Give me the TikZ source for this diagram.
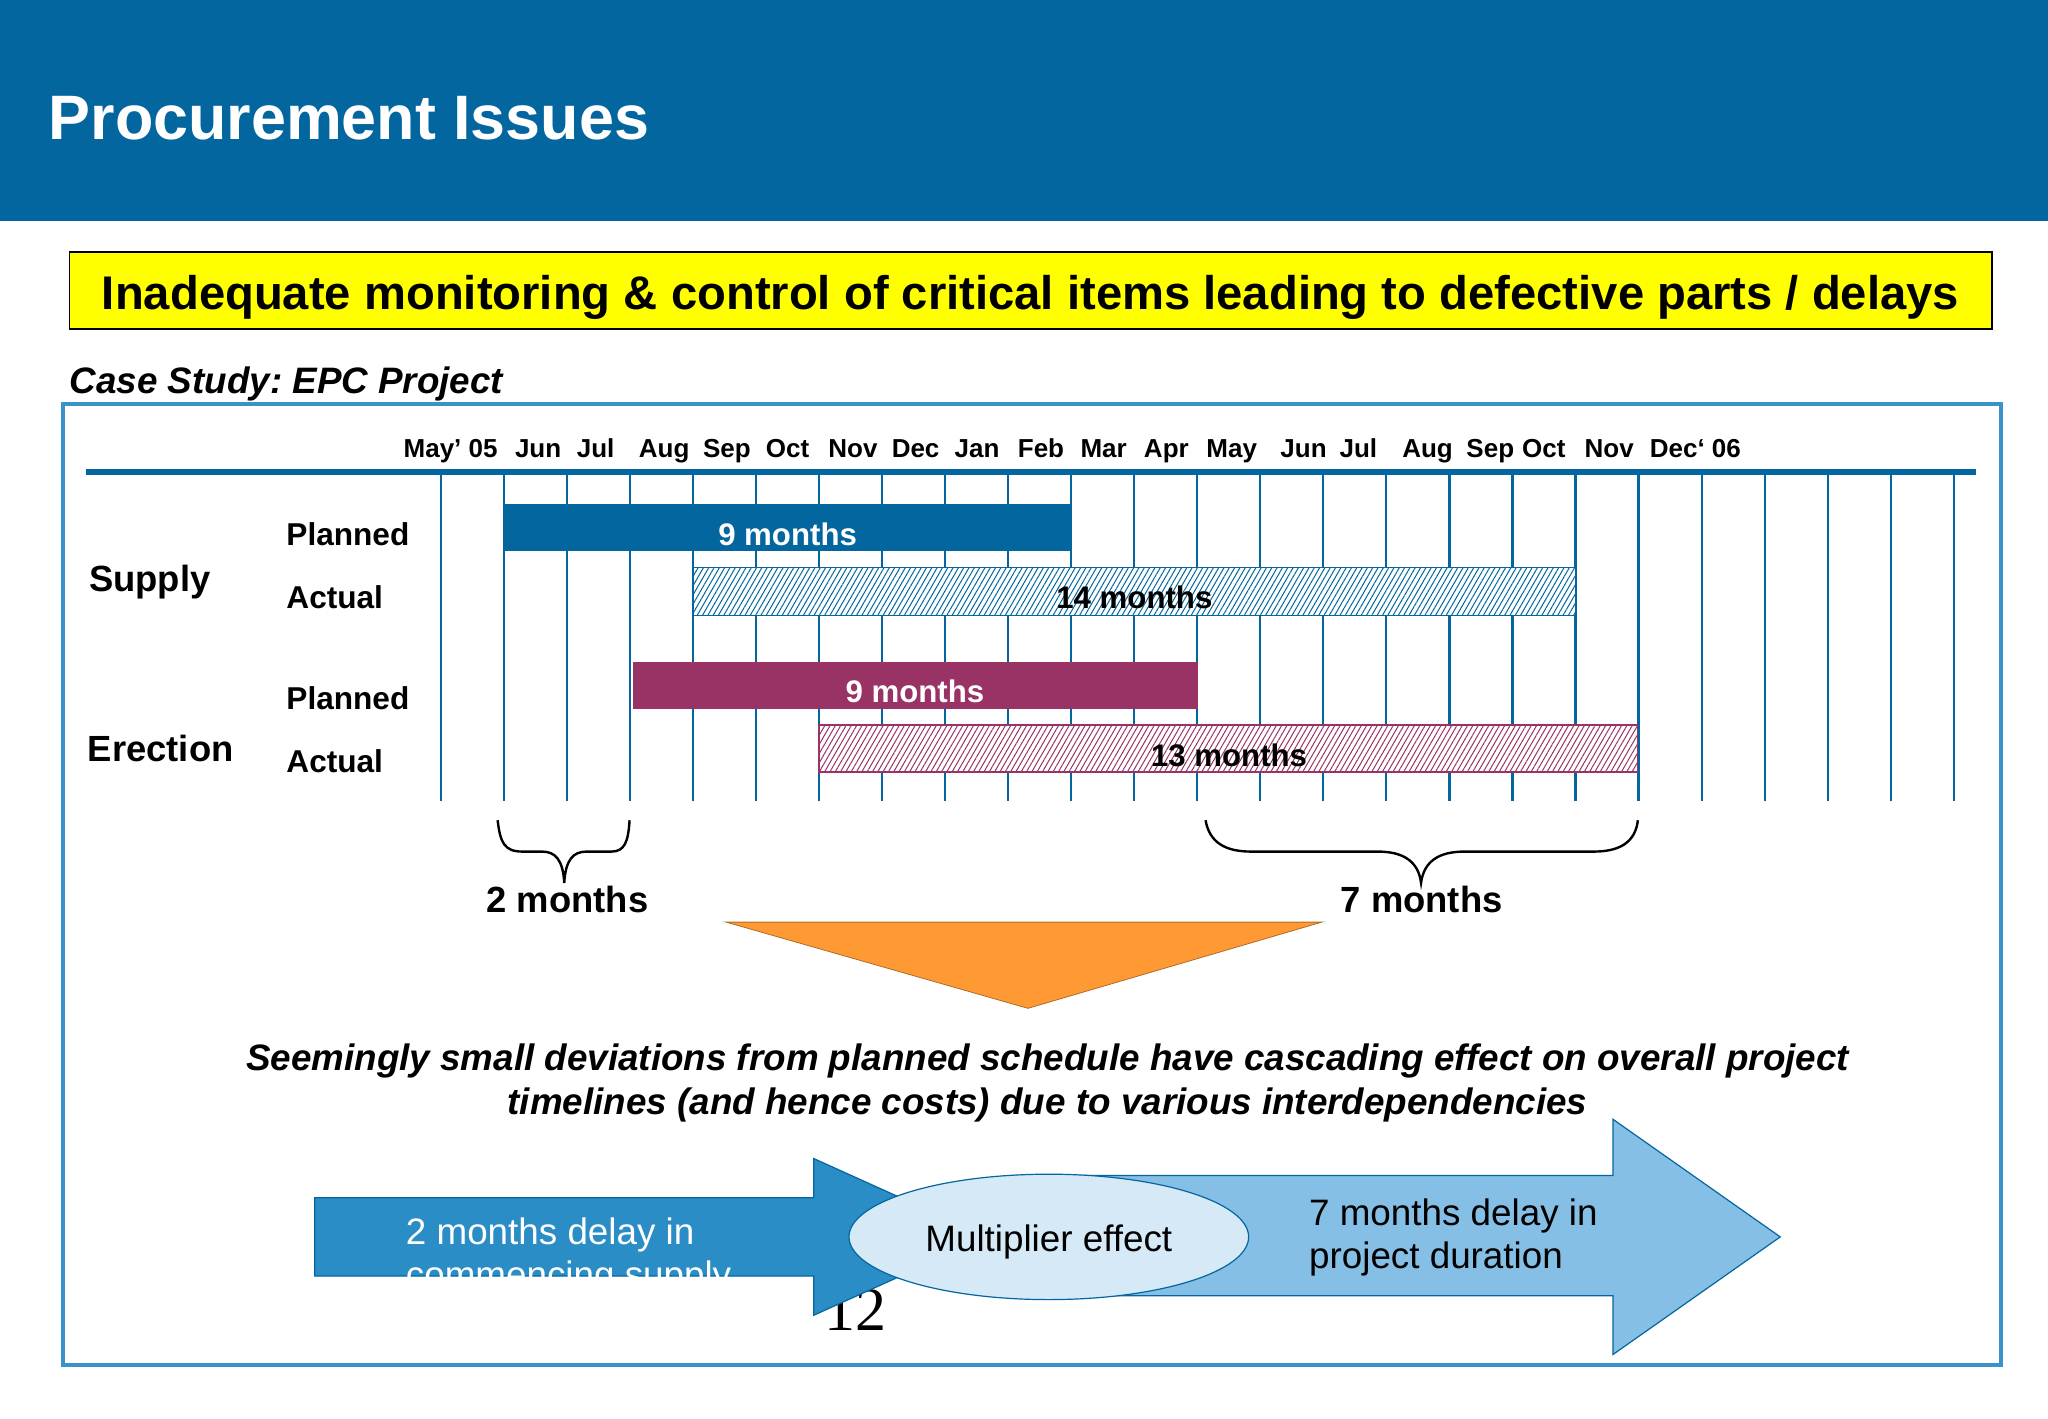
\documentclass[tikz,border=0pt]{standalone}
\usepackage{fontspec}
\setmainfont{Liberation Sans}
\newfontfamily\pagenofont{Liberation Serif}
\usetikzlibrary{positioning, shapes.geometric, patterns.meta}

\definecolor{headblue}{HTML}{03669E}
\definecolor{framblue}{HTML}{3A92C8}
\definecolor{erecred}{HTML}{993366}
\definecolor{delayblue}{HTML}{2A8DC5}
\definecolor{longblue}{HTML}{85BFE6}
\definecolor{ovalblue}{HTML}{D5E9F6}
\definecolor{wedgeorange}{HTML}{FF9933}
\definecolor{bannerfill}{HTML}{FFFF00}

\tikzset{
    month/.style={anchor=base, font=\fontsize{13}{15}\selectfont\bfseries},
    rowlabel/.style={anchor=base west, font=\fontsize{15.8}{18}\selectfont\bfseries},
    grouplabel/.style={anchor=base west, font=\fontsize{18.2}{21}\selectfont\bfseries},
    barlabel/.style={anchor=base, font=\fontsize{15.6}{18}\selectfont\bfseries},
    spanlabel/.style={anchor=base, font=\fontsize{18.2}{21}\selectfont\bfseries},
    remark/.style={anchor=base, font=\fontsize{18.4}{21}\selectfont\bfseries\itshape},
    delaylabel/.style={anchor=base west, font=\fontsize{18.4}{21}\selectfont},
    bigarrow/.style={draw=headblue, line width=0.6pt},
    brace/.style={draw=black, line width=1.2pt}
}

\begin{document}
\frenchspacing
\begin{tikzpicture}[x=0.653pt, y=-0.653pt]
    \useasboundingbox (0, 0) rectangle (1568, 1085.7);

    % title band and banner
    \fill[headblue] (0, 0) rectangle (1568, 169);
    \node[anchor=base west, text=white, inner sep=0pt, font=\fontsize{31.4}{36}\selectfont\bfseries] (title) at (37, 107) {Procurement Issues};
    \draw[fill=bannerfill, line width=0.7pt] (53, 193) rectangle (1525, 252);
    \node[anchor=base, font=\fontsize{23.6}{28}\selectfont\bfseries] (banner) at (789, 237) {Inadequate monitoring \& control of critical items leading to defective parts / delays};
    \node[anchor=base west, inner sep=0pt, font=\fontsize{18.4}{21}\selectfont\bfseries\itshape] (case) at (53, 301) {Case Study: EPC Project};
    \draw[framblue, line width=2pt] (48, 309) rectangle (1532, 1045);

    % months and grid
    \foreach \x/\m in {345/May’ 05, 412/Jun, 456/Jul, 508.5/Aug, 556.5/Sep, 603/Oct, 653/Nov, 701/Dec, 748/Jan, 797/Feb,
                       845/Mar, 893/Apr, 943/May, 998/Jun, 1040/Jul, 1093/Aug, 1141/Sep, 1182/Oct, 1232/Nov, 1298/Dec‘ 06}
        \node[month] at (\x, 350) {\m};
    \foreach \i in {0, ..., 24}
        \draw[headblue, line width=1.1pt] ({337.4 + \i * 48.27}, 361) -- ({337.4 + \i * 48.27}, 613);
    \draw[headblue, line width=3pt] (66, 361) -- (1513, 361);

    % rows
    \node[grouplabel, inner sep=0pt] (supply) at (68, 453) {Supply};
    \node[grouplabel, inner sep=0pt] (erection) at (67, 583) {Erection};
    \node[rowlabel, inner sep=0pt] (splan) at (219, 418) {Planned};
    \node[rowlabel, inner sep=0pt] (sact) at (219, 466) {Actual};
    \node[rowlabel, inner sep=0pt] (eplan) at (219, 543) {Planned};
    \node[rowlabel, inner sep=0pt] (eact) at (219, 591.5) {Actual};

    % bars
    \fill[headblue] (386.2, 386) rectangle (820.5, 422);
    \node[barlabel, text=white] (splanbar) at (603, 417.5) {9 months};
    \draw[headblue, line width=0.6pt, fill=white, postaction={pattern={Lines[angle=60, distance=2.3pt, line width=0.5pt]}, pattern color=headblue}] (531, 434.5) rectangle (1206, 471);
    \node[barlabel] (sactbar) at (868.5, 466) {14 months};
    \fill[erecred] (485, 507) rectangle (917, 543);
    \node[barlabel, text=white] (eplanbar) at (700.5, 538) {9 months};
    \draw[erecred, line width=0.6pt, fill=white, postaction={pattern={Lines[angle=60, distance=2.3pt, line width=0.5pt]}, pattern color=erecred}] (627, 555) rectangle (1254, 591);
    \node[barlabel] (eactbar) at (941, 587) {13 months};

    % braces
    \draw[brace] (381, 628) .. controls (383, 645) and (386, 652) .. (400, 652) -- (415, 652)
        .. controls (425, 652) and (431, 658) .. (432, 676)
        .. controls (433, 658) and (439, 652) .. (449, 652) -- (468, 652)
        .. controls (478, 652) and (481, 645) .. (482, 628);
    \draw[brace] (923, 628) .. controls (926, 645) and (938, 652) .. (958, 652) -- (1055, 652)
        .. controls (1075, 652) and (1086, 660) .. (1088, 676)
        .. controls (1090, 660) and (1101, 652) .. (1121, 652) -- (1220, 652)
        .. controls (1240, 652) and (1252, 645) .. (1254, 628);
    \node[spanlabel] (early) at (434.5, 699) {2 months};
    \node[spanlabel] (late) at (1088.5, 699) {7 months};

    % wedge and remark
    \draw[fill=wedgeorange, draw=wedgeorange!70!black, line width=0.4pt] (556, 706) -- (1012, 706) -- (787, 772) -- cycle;
    \node[remark] (remarka) at (802, 819.5) {Seemingly small deviations from planned schedule have cascading effect on overall project};
    \node[remark] (remarkb) at (802, 853) {timelines (and hence costs) due to various interdependencies};

    % delay arrows
    \node[anchor=base, inner sep=0pt, font=\pagenofont\fontsize{31}{36}\selectfont] (pageno) at (655, 1019) {12};
    \draw[bigarrow, fill=delayblue] (241, 917) -- (623, 917) -- (623, 887) -- (756, 947) -- (623, 1007) -- (623, 977) -- (241, 977) -- cycle;
    \node[delaylabel, text=white, inner sep=0pt] (shorta) at (310.5, 953) {2 months delay in};
    \begin{scope}
        \clip (241, 917) rectangle (623, 977);
        \node[delaylabel, text=white, inner sep=0pt] (shortb) at (310.5, 986) {commencing supply};
    \end{scope}
    \draw[bigarrow, fill=longblue] (800, 900) -- (1235, 900) -- (1235, 857) -- (1363, 947) -- (1235, 1037) -- (1235, 992) -- (800, 992) -- cycle;
    \node[delaylabel, inner sep=0pt] (longa) at (1002, 938) {7 months delay in};
    \node[delaylabel, inner sep=0pt] (longb) at (1002, 971) {project duration};
    \node[ellipse, draw=headblue, fill=ovalblue, line width=0.6pt, minimum width=199.8pt, minimum height=62.7pt, inner sep=0pt] (oval) at (803, 947) {};
    \node[anchor=base, font=\fontsize{18.4}{21}\selectfont] (ovaltext) at (803, 958) {Multiplier effect};
\end{tikzpicture}
\end{document}
